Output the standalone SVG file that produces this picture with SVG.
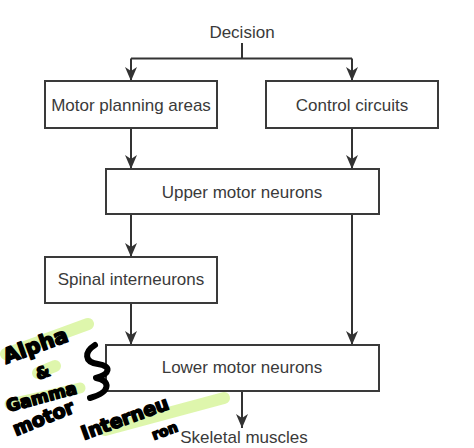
<svg xmlns="http://www.w3.org/2000/svg" width="474" height="448" viewBox="0 0 474 448">
<defs>
<marker id="arr" viewBox="0 -6 14 12" refX="14" refY="0" markerWidth="14" markerHeight="12" markerUnits="userSpaceOnUse" orient="auto">
<path d="M0,-6 L14,0 L0,6 L4,0 Z" fill="#333"/>
</marker>
<style>
.box{fill:#fff;stroke:#3a3a3a;stroke-width:2}
.lbl{font-family:"Liberation Sans",Arial,sans-serif;font-size:17px;fill:#3a3a3a;text-anchor:middle}
.con{fill:none;stroke:#333;stroke-width:2}
.hl{fill:none;stroke:#dcf5a8;stroke-linecap:round;opacity:0.95}
.hw{font-family:"DejaVu Sans",sans-serif;font-weight:bold;fill:#000;stroke:#000;stroke-width:1.6;stroke-linejoin:round}
</style>
</defs>
<rect width="474" height="448" fill="#fff"/>

<g id="annot-highlights">
<path class="hl" stroke-width="12" d="M6,354 L88,324"/>
<path class="hl" stroke-width="12" d="M38,373 L55,366"/>
<path class="hl" stroke-width="11" d="M10,404 L80,388"/>
<path class="hl" stroke-width="12" d="M105,430 L224,398"/>
</g>

<g id="connectors">
<path class="con" d="M242,43 V58.5"/>
<path class="con" d="M131,58.5 H352"/>
<path class="con" d="M131,58.5 V81" marker-end="url(#arr)"/>
<path class="con" d="M352,58.5 V81" marker-end="url(#arr)"/>
<path class="con" d="M131,128 V169" marker-end="url(#arr)"/>
<path class="con" d="M352,128 V169" marker-end="url(#arr)"/>
<path class="con" d="M131,214 V257" marker-end="url(#arr)"/>
<path class="con" d="M352,214 V345" marker-end="url(#arr)"/>
<path class="con" d="M131,303 V345" marker-end="url(#arr)"/>
<path class="con" d="M242,391 V428" marker-end="url(#arr)"/>
</g>

<g id="decision"><text class="lbl" x="242" y="38">Decision</text></g>
<g id="motor-planning"><rect class="box" x="45" y="81" width="172" height="47"/><text class="lbl" x="131" y="111">Motor planning areas</text></g>
<g id="control-circuits"><rect class="box" x="266" y="81" width="172" height="47"/><text class="lbl" x="352" y="111">Control circuits</text></g>
<g id="upper-motor"><rect class="box" x="106" y="169" width="273" height="45"/><text class="lbl" x="242" y="197.5">Upper motor neurons</text></g>
<g id="spinal"><rect class="box" x="45" y="257" width="172" height="46"/><text class="lbl" x="131" y="285">Spinal interneurons</text></g>
<g id="lower-motor"><rect class="box" x="106" y="345" width="273" height="46"/><text class="lbl" x="242" y="373">Lower motor neurons</text></g>
<g id="skeletal"><text class="lbl" x="244" y="443">Skeletal muscles</text></g>

<g id="annot-ink">
<text class="hw" font-size="21" transform="translate(6,364) rotate(-20)">Alpha</text>
<text class="hw" font-size="16" transform="translate(38,380) rotate(-20)">&amp;</text>
<text class="hw" font-size="17" transform="translate(8,412) rotate(-15)">Gamma</text>
<text class="hw" font-size="19" transform="translate(16,436) rotate(-22)">motor</text>
<text class="hw" font-size="19" transform="translate(84,440) rotate(-20)">Interneu</text>
<text class="hw" font-size="14" transform="translate(154,440) rotate(-20)">ron</text>
<path d="M95,345 C84,352 84,362 98,364 C112,366 110,374 96,378 C110,380 112,392 90,398" fill="none" stroke="#000" stroke-width="6" stroke-linecap="round" stroke-linejoin="round"/>
</g>
</svg>
